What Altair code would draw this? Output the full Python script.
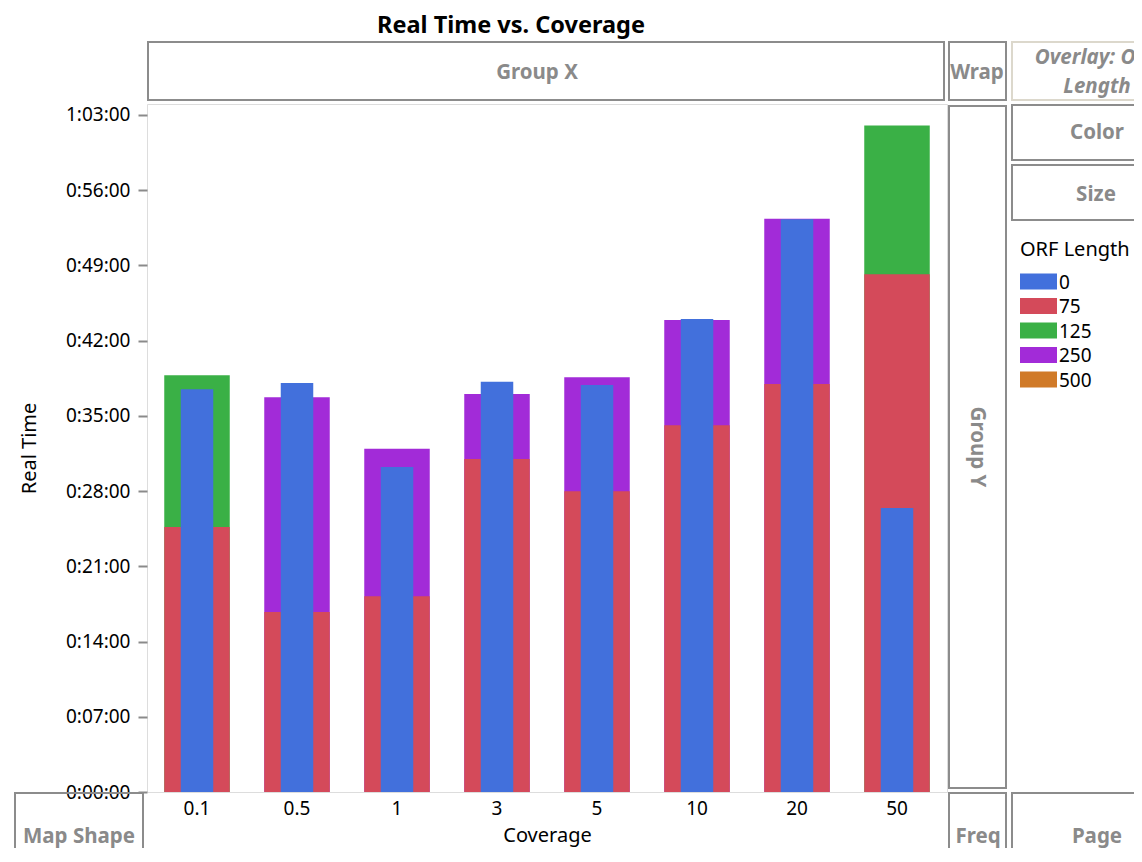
import altair as alt
import pandas as pd

# ---------------- data ----------------
coverage = ["0.1", "0.5", "1", "3", "5", "10", "20", "50"]
orf_levels = ["0", "75", "125", "250", "500"]
orf_colors = ["#4270DC", "#D44A5A", "#3AB046", "#A22BD8", "#D07A28"]

# Real time in minutes
time_orf0 = [37.46, 38.05, 30.23, 38.17, 37.86, 44.00, 53.27, 26.42]
time_orf75 = [24.65, 16.74, 18.20, 30.98, 27.97, 34.11, 37.95, 48.16]
time_orf125 = [38.76, None, None, None, None, None, None, 62.00]
time_orf250 = [None, 36.72, 31.93, 37.02, 38.58, 43.90, 53.33, None]

y_ticks = [0, 7, 14, 21, 28, 35, 42, 49, 56, 63]

FONT = "Noto Sans"
GRAY = "#8a8a8a"


def rows(values, orf):
    return [{"coverage": c, "orf": orf, "minutes": v}
            for c, v in zip(coverage, values) if v is not None]


wide_top = pd.DataFrame(rows(time_orf125, "125") + rows(time_orf250, "250"))
wide_red = pd.DataFrame(rows(time_orf75, "75"))
narrow_blue = pd.DataFrame(rows(time_orf0, "0"))
legend_df = pd.DataFrame({"orf": orf_levels})

color_scale = alt.Scale(domain=orf_levels, range=orf_colors)

x_enc = alt.X(
    "coverage:N", sort=coverage,
    scale=alt.Scale(domain=coverage, paddingInner=0, paddingOuter=0),
    axis=alt.Axis(title="Coverage", labelAngle=0, ticks=False, domain=False,
                  labelFontSize=19, labelColor="black", labelPadding=7,
                  titleFontSize=20, titleFontWeight="normal", titleColor="black",
                  titlePadding=7, labelFont=FONT, titleFont=FONT),
)
y_enc = alt.Y(
    "minutes:Q",
    scale=alt.Scale(domain=[0, 64], nice=False, zero=True),
    axis=alt.Axis(
        title="Real Time", values=y_ticks, grid=False, domain=False,
        labelExpr="floor(datum.value/60) + ':' + (datum.value % 60 < 10 ? '0' : '') + (datum.value % 60) + ':00'",
        tickSize=9, tickColor=GRAY, tickWidth=2, labelPadding=8,
        labelFontSize=19, labelColor="black", labelFont=FONT,
        titleFontSize=20, titleFontWeight="normal", titleColor="black",
        titlePadding=26, titleFont=FONT,
    ),
)
color_enc = alt.Color("orf:N", scale=color_scale, legend=None)

bars_top = alt.Chart(wide_top).mark_bar(width=alt.RelativeBandSize(0.655)).encode(
    x=x_enc, y=y_enc, color=color_enc)
bars_red = alt.Chart(wide_red).mark_bar(width=alt.RelativeBandSize(0.655)).encode(
    x=x_enc, y=y_enc, color=color_enc)
bars_blue = alt.Chart(narrow_blue).mark_bar(width=alt.RelativeBandSize(0.325)).encode(
    x=x_enc, y=y_enc, color=color_enc)
bars = alt.layer(bars_top, bars_red, bars_blue)

# ---------------- JMP-style legend (entries placed by a point scale) ----------------
legend_y = alt.Y("orf:N", sort=orf_levels,
                 scale=alt.Scale(type="point", domain=orf_levels, range=[177.5, 275.5], padding=0),
                 axis=None)
legend_swatch = alt.Chart(legend_df).mark_point(
    shape="M-1,-0.43H1V0.43H-1Z", size=1369, filled=True, opacity=1, strokeWidth=0
).encode(x=alt.value(891.5), y=legend_y, color=color_enc)
legend_text = alt.Chart(legend_df).mark_text(
    font=FONT, fontSize=19, color="black", align="left", baseline="middle", dy=1
).encode(x=alt.value(912), y=legend_y, text="orf:N")
legend = alt.layer(legend_swatch, legend_text)

# ---------------- JMP Graph Builder drop zones (decoration) ----------------
dummy = alt.Data(values=[{"d": 0}])


def box(x1, y1, x2, y2, stroke="#8c8c8c"):
    return alt.Chart(dummy).mark_rect(fill="white", fillOpacity=0, stroke=stroke, strokeWidth=2).encode(
        x=alt.value(x1), x2=alt.value(x2), y=alt.value(y1), y2=alt.value(y2))


def label(txt, x, y, angle=0, italic=False, size=20.5, color=GRAY, bold=True, align="center"):
    return alt.Chart(dummy).mark_text(
        font=FONT, fontSize=size, fontWeight="bold" if bold else "normal",
        fontStyle="italic" if italic else "normal", color=color,
        angle=angle, align=align, baseline="middle",
    ).encode(x=alt.value(x), y=alt.value(y), text=alt.value(txt))


decor = [
    box(1, -62, 797, -4),             # Group X
    box(802, -62, 859, -4),           # Wrap
    box(865, -62, 1010, -4, "#dcd8cc"),  # Overlay
    box(802, 2, 859, 684),            # Group Y
    box(865, 1, 1010, 56),            # Color
    box(865, 61, 1010, 116),          # Size
    box(-132, 689, -4, 775),          # Map Shape
    box(802, 689, 859, 775),          # Freq
    box(865, 689, 1010, 775),         # Page
    label("Group X", 390, -31),
    label("Wrap", 830, -31),
    label("Overlay: ORF", 950, -46, italic=True),
    label("Length", 950, -17, italic=True),
    label("Group Y", 830, 343, angle=90),
    label("Color", 950, 29),
    label("Size", 949, 91),
    label("Map Shape", -68, 733),
    label("Freq", 831, 733),
    label("Page", 950, 733),
    label("ORF Length", 873, 146, size=20, color="black", bold=False, align="left"),
    label("Real Time vs. Coverage", 364, -78, size=23.5, color="black"),
]

chart = alt.layer(bars, legend, *decor).resolve_scale(y="independent").properties(
    width=800, height=688,
    autosize=alt.AutoSizeParams(type="none"),
    padding={"left": 139, "top": 96, "right": 187, "bottom": 56},
).configure_view(stroke="#8c8c8c", strokeWidth=2).configure(font=FONT)

chart.save("out.html", embed_options={"renderer": "svg", "actions": False})
